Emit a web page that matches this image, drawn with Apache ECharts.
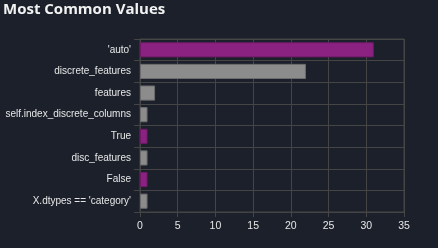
<!DOCTYPE html>
<html>
<head>
<meta charset="utf-8">
<script src="https://cdn.jsdelivr.net/npm/echarts@6/dist/echarts.min.js"></script>
<style>
  html, body { margin: 0; padding: 0; background: #1b202b; }
  #chart { width: 438px; height: 248px; }
</style>
</head>
<body>
<div id="chart"></div>
<script>
const categories = ["'auto'", "discrete_features", "features", "self.index_discrete_columns", "True", "disc_features", "False", "X.dtypes == 'category'"];
const counts = [31, 22, 2, 1, 1, 1, 1, 1];
const highlighted = [true, false, false, false, true, false, true, false];
const xTicks = { min: 0, max: 35, interval: 5 };

const grid_color = "#454545";
const text_color = "#e6e6e6";

const chart = echarts.init(document.getElementById("chart"));
chart.setOption({
  backgroundColor: "#1b202b",
  animation: false,
  title: {
    text: "Most Common Values",
    left: 3,
    top: 2,
    padding: 0,
    textStyle: { color: "#f2f2f2", fontSize: 15, fontWeight: "bold", fontFamily: "Open Sans" }
  },
  grid: {
    left: 140, right: 34, top: 39, bottom: 36,
    show: true,
    borderColor: grid_color,
    borderWidth: 1,
    outerBoundsMode: "none"
  },
  xAxis: {
    type: "value",
    min: xTicks.min, max: xTicks.max, interval: xTicks.interval,
    axisLine: { show: true, lineStyle: { color: grid_color } },
    axisTick: { show: true, length: 5, lineStyle: { color: grid_color } },
    axisLabel: { color: text_color, fontSize: 10.5, fontFamily: "Liberation Sans", margin: 9 },
    splitLine: { show: true, lineStyle: { color: grid_color } }
  },
  yAxis: {
    type: "category",
    inverse: true,
    data: categories,
    axisLine: { show: true, lineStyle: { color: grid_color } },
    axisTick: { show: true, length: 6, lineStyle: { color: grid_color } },
    axisLabel: { color: text_color, fontSize: 10, fontFamily: "Liberation Sans", margin: 9 },
    splitLine: { show: true, lineStyle: { color: grid_color } }
  },
  series: [{
    type: "bar",
    barWidth: "70%",
    data: counts.map((v, i) => ({
      value: v,
      itemStyle: highlighted[i]
        ? { color: "#8b2180", borderColor: "#6e1a66", borderWidth: 1 }
        : { color: "#8c8c8c", borderColor: "#6c6c6c", borderWidth: 1 }
    }))
  }]
});
</script>
</body>
</html>
